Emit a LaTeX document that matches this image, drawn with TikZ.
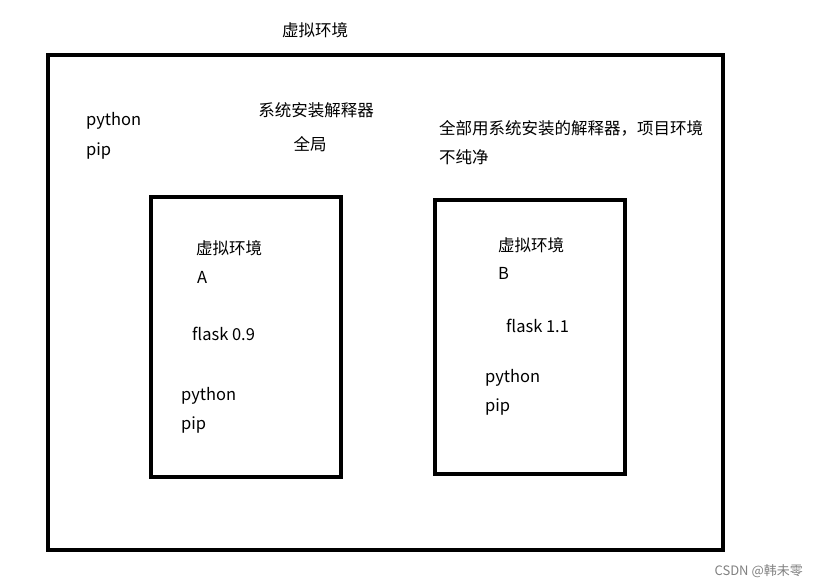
\documentclass[tikz,border=0pt]{standalone}
\usepackage{fontspec}
\setmainfont{Noto Sans CJK SC}
\begin{document}
\begin{tikzpicture}[x=1pt,y=-1pt,
  box/.style={draw,line width=4pt},
  t/.style={anchor=west,inner sep=0pt,font=\fontsize{16.5}{19}\selectfont},
  tc/.style={anchor=center,inner sep=0pt,font=\fontsize{16.5}{19}\selectfont}]
\useasboundingbox (0,0) rectangle (819,588);
\draw[box] (48,55) rectangle (723,550);
\draw[box] (151,197) rectangle (341,477);
\draw[box] (435,200) rectangle (625,474);
\node[tc] (title) at (315,30) {虚拟环境};
\node[t] (py0) at (86,121) {python};
\node[t] (pip0) at (86,151) {pip};
\node[tc] (sys) at (316,110) {系统安装解释器};
\node[tc] (glob) at (310,144) {全局};
\node[t] (n1) at (439,128) {全部用系统安装的解释器，项目环境};
\node[t] (n2) at (439,157) {不纯净};
\node[t] (va) at (196,248) {虚拟环境};
\node[t] (a) at (197,277) {A};
\node[t] (fa) at (192,334) {flask 0.9};
\node[t] (pya) at (181,396) {python};
\node[t] (pipa) at (181,425) {pip};
\node[t] (vb) at (498,245) {虚拟环境};
\node[t] (b) at (498,273) {B};
\node[t] (fb) at (506,326) {flask 1.1};
\node[t] (pyb) at (485,378) {python};
\node[t] (pipb) at (485,407) {pip};
\node[anchor=east,inner sep=0pt,text=gray,font=\fontsize{13}{15}\selectfont] (wm) at (803,571) {CSDN @韩未零};
\end{tikzpicture}
\end{document}
